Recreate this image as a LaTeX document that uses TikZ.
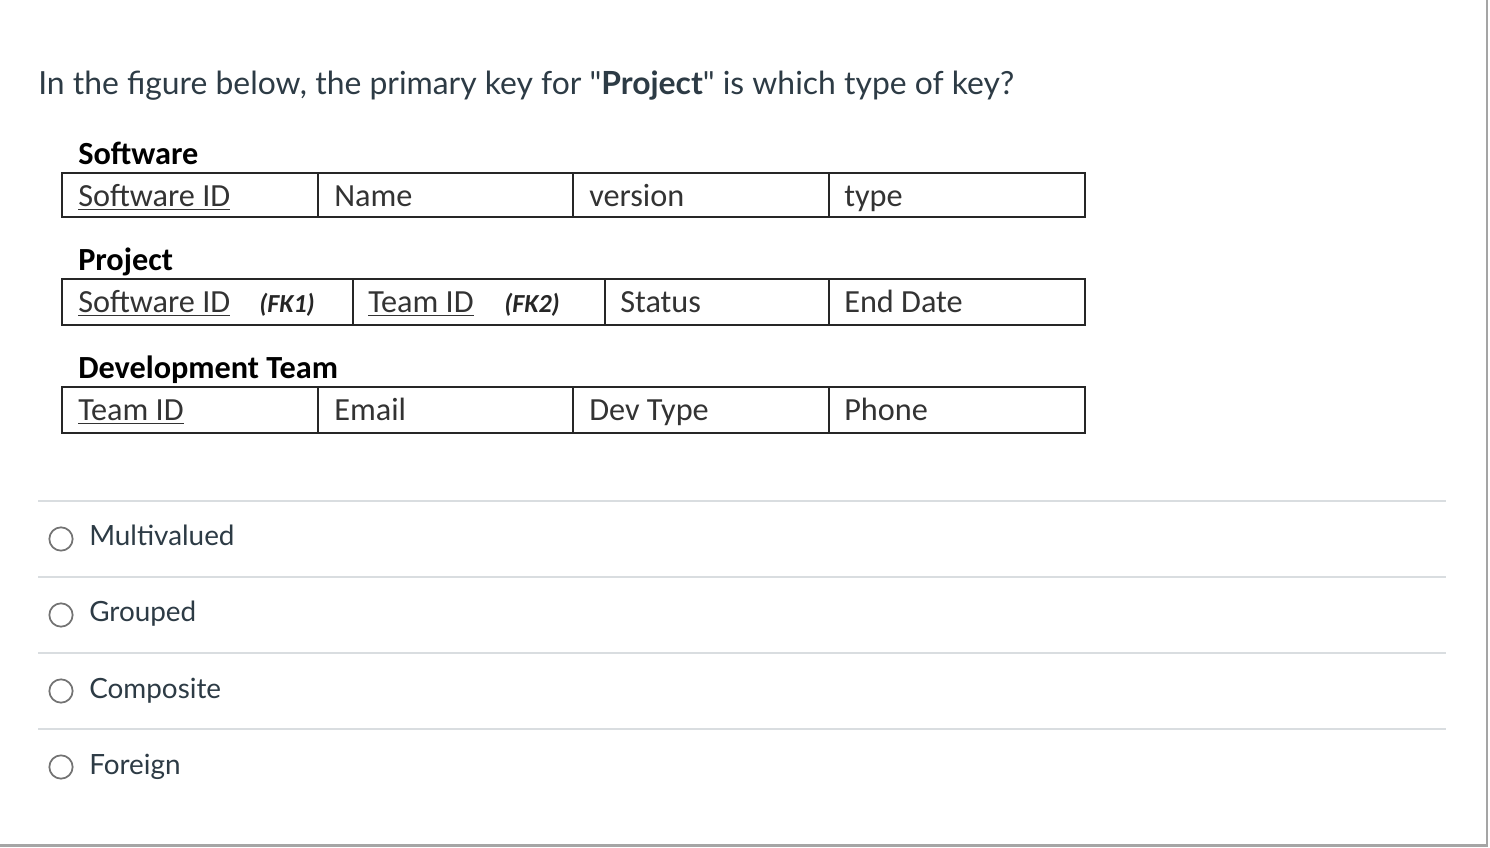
\documentclass[tikz,border=0pt]{standalone}
\usepackage{fontspec}
\setmainfont{Lato}[Ligatures=TeXOff]
\newfontfamily\calfont{Carlito}
\definecolor{qtext}{HTML}{2D3B45}
\definecolor{sepgray}{HTML}{D9DDE0}
\definecolor{bordgray}{HTML}{A5A5A5}
\definecolor{cellfg}{HTML}{333333}
\newcommand{\keyul}[1]{\underline{#1}}
\begin{document}
\begin{tikzpicture}[x=0.75pt,y=-0.75pt,
  qtxt/.style={anchor=base west,inner sep=0,text=qtext,font=\fontsize{23.9}{28}\selectfont},
  opttxt/.style={anchor=base west,inner sep=0,text=qtext,font=\fontsize{20.9}{25}\selectfont},
  ttitle/.style={anchor=base west,inner sep=0,text=black,font=\calfont\bfseries\fontsize{24.2}{28}\selectfont},
  cell/.style={anchor=base west,inner sep=0,text=cellfg,font=\calfont\fontsize{24.2}{28}\selectfont},
  fk/.style={anchor=base west,inner sep=0,text=black!85,font=\calfont\bfseries\itshape\fontsize{19.5}{22}\selectfont},
  tbl/.style={draw=black!85,line width=1.6pt},
  sep/.style={draw=sepgray,line width=1.2pt},
  radio/.style={circle,draw=black!55,line width=1.3pt,minimum size=17.5pt,inner sep=0},
]
\useasboundingbox (0,0) rectangle (1490,848);
\fill[white] (0,0) rectangle (1490,848);
% border
\draw[bordgray,line width=1.8pt] (1487,0) -- (1487,845.5) -- (0,845.5);

\node[qtxt] (q) at (38,95) {In the figure below, the primary key for "\textbf{Project}" is which type of key?};

% Software table
\node[ttitle] (t1) at (78,165) {Software};
\draw[tbl] (62,173) rectangle (1085,217);
\foreach \x in {318,573,829} \draw[tbl] (\x,173) -- (\x,217);
\node[cell] (s1) at (78,207) {\keyul{Software ID}};
\node[cell] (s2) at (334,207) {Name};
\node[cell] (s3) at (589,207) {version};
\node[cell] (s4) at (844,207) {type};

% Project table
\node[ttitle] (t2) at (78,271) {Project};
\draw[tbl] (62,279) rectangle (1085,325);
\foreach \x in {353,605,829} \draw[tbl] (\x,279) -- (\x,325);
\node[cell] (p1) at (78,313) {\keyul{Software ID}};
\node[fk] (p1f) at (259,313) {(FK1)};
\node[cell] (p2) at (368,313) {\keyul{Team ID}};
\node[fk] (p2f) at (504,313) {(FK2)};
\node[cell] (p3) at (620,313) {Status};
\node[cell] (p4) at (844,313) {End Date};

% Development Team table
\node[ttitle] (t3) at (78,379) {Development Team};
\draw[tbl] (62,387) rectangle (1085,433);
\foreach \x in {318,573,829} \draw[tbl] (\x,387) -- (\x,433);
\node[cell] (d1) at (78,421) {\keyul{Team ID}};
\node[cell] (d2) at (334,421) {Email};
\node[cell] (d3) at (589,421) {Dev Type};
\node[cell] (d4) at (844,421) {Phone};

% separators
\foreach \y in {501,577,653,729} \draw[sep] (38,\y) -- (1446,\y);

% options
\node[radio] (r1) at (61,539) {};
\node[opttxt] (o1) at (89,546) {Multivalued};
\node[radio] (r2) at (61,615) {};
\node[opttxt] (o2) at (89,622) {Grouped};
\node[radio] (r3) at (61,691) {};
\node[opttxt] (o3) at (89,698) {Composite};
\node[radio] (r4) at (61,767) {};
\node[opttxt] (o4) at (89,774) {Foreign};
\end{tikzpicture}
\end{document}
